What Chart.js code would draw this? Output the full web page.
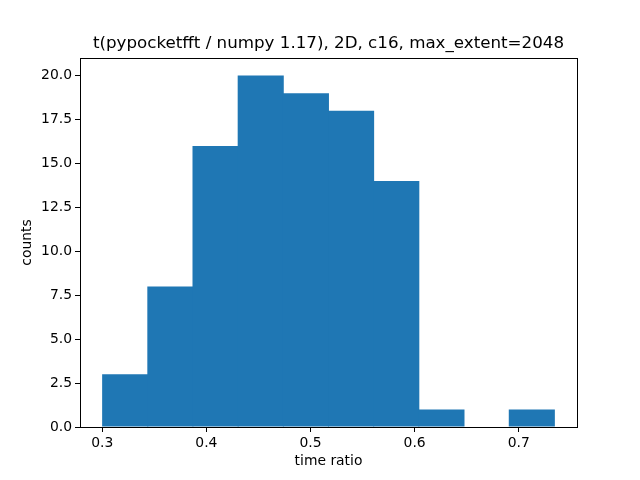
<!DOCTYPE html>
<html>
<head>
<meta charset="utf-8">
<script src="https://cdn.jsdelivr.net/npm/chart.js@4"></script>
<style>
  html, body { margin: 0; padding: 0; background: #fff; }
  #wrap { width: 640px; height: 480px; }
</style>
</head>
<body>
<div id="wrap"><canvas id="histChart" width="640" height="480"></canvas></div>
<script>
// histogram bin edges and counts
const binEdges = [0.3003, 0.3437, 0.3871, 0.4305, 0.4739, 0.5173, 0.5607, 0.6041, 0.6475, 0.6909, 0.7343];
const counts = [3, 8, 16, 20, 19, 18, 14, 1, 0, 1];
const xTicks = [0.3, 0.4, 0.5, 0.6, 0.7];
const yTicks = [0, 2.5, 5, 7.5, 10, 12.5, 15, 17.5, 20];

const barData = counts.map((c, i) => ({ x: (binEdges[i] + binEdges[i + 1]) / 2, y: c }));

const font = { family: 'DejaVu Sans', size: 13.9 };

// top and right spines
const frame = {
    id: 'frame',
    afterDraw(chart) {
        const { ctx, chartArea: a } = chart;
        ctx.save();
        ctx.strokeStyle = '#000';
        ctx.lineWidth = 1;
        ctx.strokeRect(Math.round(a.left) + 0.5, Math.round(a.top) + 0.5,
            Math.round(a.right - a.left), Math.round(a.bottom - a.top));
        ctx.restore();
    }
};

new Chart(document.getElementById('histChart').getContext('2d'), {
    type: 'bar',
    data: {
        datasets: [{
            data: barData,
            backgroundColor: '#1f77b4',
            borderWidth: 0,
            barPercentage: 1.02,
            categoryPercentage: 1.0
        }]
    },
    plugins: [frame],
    options: {
        responsive: false,
        animation: false,
        devicePixelRatio: 1,
        layout: { padding: { left: 0, right: 63, top: 0, bottom: 0 } },
        plugins: {
            legend: { display: false },
            tooltip: { enabled: false },
            title: {
                display: true,
                fullSize: false,
                text: 't(pypocketfft / numpy 1.17), 2D, c16, max_extent=2048',
                color: '#000',
                font: { family: 'DejaVu Sans', size: 16.7, weight: 'normal' },
                padding: { top: 34, bottom: 4 }
            }
        },
        scales: {
            x: {
                type: 'linear',
                min: 0.2786,
                max: 0.7560,
                offset: false,
                afterBuildTicks: s => { s.ticks = xTicks.map(v => ({ value: v })); },
                afterFit: s => { s.height = 53; },
                ticks: {
                    color: '#000', font: font, padding: 3,
                    maxRotation: 0, autoSkip: false,
                    callback: v => v.toFixed(1)
                },
                grid: { display: true, offset: false, drawOnChartArea: false, drawTicks: true, tickLength: 5, tickColor: '#000' },
                border: { display: true, color: '#000', width: 1 },
                title: { display: true, text: 'time ratio', color: '#000', font: font, padding: { top: 0, bottom: 10 } }
            },
            y: {
                type: 'linear',
                min: 0,
                max: 21,
                afterBuildTicks: s => { s.ticks = yTicks.map(v => ({ value: v })); },
                afterFit: s => { s.width = 80; },
                ticks: {
                    color: '#000', font: font, padding: 3, autoSkip: false,
                    callback: v => v.toFixed(1)
                },
                grid: { display: true, offset: false, drawOnChartArea: false, drawTicks: true, tickLength: 5, tickColor: '#000' },
                border: { display: true, color: '#000', width: 1 },
                title: { display: true, text: 'counts', color: '#000', font: font, padding: { top: 19, bottom: 0 } }
            }
        }
    }
});
</script>
</body>
</html>
